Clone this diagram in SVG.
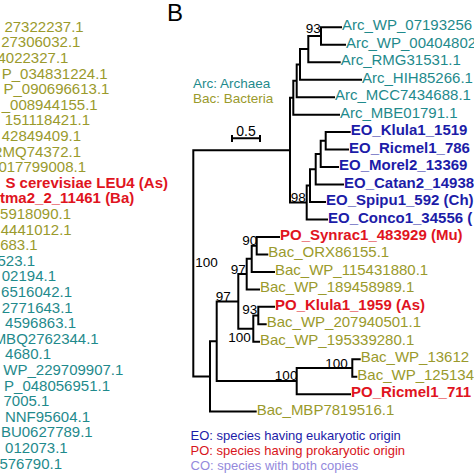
<svg xmlns="http://www.w3.org/2000/svg" width="474" height="474" viewBox="0 0 474 474">
<style>
text{font-family:"Liberation Sans",Arial,sans-serif}
.t{font-size:15px}
.e{text-anchor:end}
.bac{fill:#9a9a2c}
.arc{fill:#1f8a8c}
.eo{fill:#1c1ca8;font-weight:bold}
.po{fill:#e0141e;font-weight:bold}
.bs{font-size:13.5px;fill:#000;text-anchor:end}
.lg{font-size:13px}
.br{fill:none;stroke:#000;stroke-width:2;stroke-linecap:square}
</style>
<rect width="474" height="474" fill="#fff"/>
<g id="panelA">
<text class="t e bac" x="83.7" y="31.7">27322237.1</text>
<text class="t e bac" x="80.4" y="47.3">27306032.1</text>
<text class="t e bac" x="68.4" y="62.9">4022327.1</text>
<text class="t e bac" x="107.7" y="78.5">P_034831224.1</text>
<text class="t e bac" x="109.4" y="94.1">P_090696613.1</text>
<text class="t e bac" x="97.7" y="109.7">_008944155.1</text>
<text class="t e bac" x="90" y="125.3">151118421.1</text>
<text class="t e bac" x="81" y="140.9">42849409.1</text>
<text class="t e bac" x="81" y="156.5">RMQ74372.1</text>
<text class="t e bac" x="86" y="172.1">_017799008.1</text>
<text class="t e po" x="168" y="187.7">S cerevisiae LEU4 (As)</text>
<text class="t e po" x="134.3" y="203.3">tma2_2_11461 (Ba)</text>
<text class="t e bac" x="71" y="218.9">5918090.1</text>
<text class="t e bac" x="71.7" y="234.5">4441012.1</text>
<text class="t e bac" x="37.7" y="250.1">683.1</text>
<text class="t e arc" x="35" y="265.7">523.1</text>
<text class="t e arc" x="56" y="281.3">02194.1</text>
<text class="t e arc" x="72" y="296.9">6516042.1</text>
<text class="t e arc" x="72.7" y="312.5">2771643.1</text>
<text class="t e arc" x="76" y="328.1">4596863.1</text>
<text class="t e arc" x="98.7" y="343.7">MBQ2762344.1</text>
<text class="t e arc" x="51" y="359.3">4680.1</text>
<text class="t e arc" x="123.4" y="374.9">WP_229709907.1</text>
<text class="t e arc" x="110" y="390.5">P_048056951.1</text>
<text class="t e arc" x="49.4" y="406.1">7005.1</text>
<text class="t e arc" x="90" y="421.7">NNF95604.1</text>
<text class="t e arc" x="92.7" y="437.3">BU0627789.1</text>
<text class="t e arc" x="67.7" y="452.9">012073.1</text>
<text class="t e arc" x="62" y="468.5">576790.1</text>
</g>
<text id="label-B" x="167" y="21" style="font-size:24px;fill:#000">B</text>
<g id="legend-top">
<text class="lg arc" x="193" y="88" style="font-size:13.5px">Arc: Archaea</text>
<text class="lg bac" x="193" y="103" style="font-size:13.5px">Bac: Bacteria</text>
</g>
<g id="scalebar">
<path class="br" d="M232 138.3H260M232 136V141M260 136V141"/>
<text x="246" y="135.5" style="font-size:14px;text-anchor:middle">0.5</text>
</g>
<g id="connectors">
<path class="br" d="M193.3 150.15V376.4M193.3 150.15H290M193.3 376.4H210
M290 97.75V202.55M290 97.75H293.3M290 202.55H306.7
M293.3 80.8V114.7M293.3 80.8H296.7M293.3 114.7H339
M296.7 64.4V97.2M296.7 64.4H300M296.7 97.2H334
M300 49.1V79.7M300 49.1H308.3M300 79.7H361
M308.3 36.05V62.2M308.3 36.05H321M308.3 62.2H339.7
M321 27.3V44.8M321 27.3H341M321 44.8H345
M306.7 185.6V219.5M306.7 185.6H310M306.7 219.5H327
M310 169.25V202M310 169.25H315.7M310 202H325
M315.7 154V184.5M315.7 154H320.7M315.7 184.5H343
M320.7 140.85V167.1M320.7 140.85H325.7M320.7 167.1H338
M325.7 132.1V149.6M325.7 132.1H349.7M325.7 149.6H348
M210 341.25V411.6M210 341.25H216.7M210 411.6H255.7
M216.7 301.4V381.1M216.7 301.4H238.3M216.7 381.1H296.7
M238.3 274.1V328.7M238.3 274.1H246.7M238.3 328.7H253.3
M246.7 258.8V289.4M246.7 258.8H251.7M246.7 289.4H259
M251.7 245.65V271.9M251.7 245.65H256.7M251.7 271.9H274
M256.7 236.9V254.4M256.7 236.9H279M256.7 254.4H267.3
M253.3 315.55V341.8M253.3 315.55H258.3M253.3 341.8H259
M258.3 306.8V324.3M258.3 306.8H274M258.3 324.3H265.7
M296.7 367.95V394.2M296.7 367.95H352.3M296.7 394.2H350
M352.3 359.2V376.7M352.3 359.2H359.7M352.3 376.7H356.3"/>
</g>
<g id="bootstrap">
<text class="bs" x="320.7" y="33.3">93</text>
<text class="bs" x="305.7" y="201.5">98</text>
<text class="bs" x="257.4" y="244.5">90</text>
<text class="bs" x="245.7" y="273.5">97</text>
<text class="bs" x="230.7" y="300.5">97</text>
<text class="bs" x="257.4" y="314">93</text>
<text class="bs" x="250.7" y="341.5">100</text>
<text class="bs" x="297.4" y="380">100</text>
<text class="bs" x="347.7" y="367.5">100</text>
<text class="bs" x="217.7" y="267">100</text>
</g>
<g id="leaves">
<text id="n1" class="t arc" x="342" y="30.3">Arc_WP_07193256</text>
<text id="n2" class="t arc" x="346" y="47.8">Arc_WP_00404802</text>
<text id="n3" class="t arc" x="340.7" y="65.2">Arc_RMG31531.1</text>
<text id="n4" class="t arc" x="362" y="82.7">Arc_HIH85266.1</text>
<text id="n5" class="t arc" x="335" y="100.2">Arc_MCC7434688.1</text>
<text id="n6" class="t arc" x="340" y="117.7">Arc_MBE01791.1</text>
<text id="n7" class="t eo" x="350.7" y="135.1">EO_Klula1_1519</text>
<text id="n8" class="t eo" x="349" y="152.6">EO_Ricmel1_786</text>
<text id="n9" class="t eo" x="339" y="170.1">EO_Morel2_13369</text>
<text id="n10" class="t eo" x="344" y="187.5">EO_Catan2_14938</text>
<text id="n11" class="t eo" x="326" y="205">EO_Spipu1_592 (Ch)</text>
<text id="n12" class="t eo" x="328" y="222.5">EO_Conco1_34556 (</text>
<text id="n13" class="t po" x="280" y="239.9">PO_Synrac1_483929 (Mu)</text>
<text id="n14" class="t bac" x="268.3" y="257.4">Bac_ORX86155.1</text>
<text id="n15" class="t bac" x="275" y="274.9">Bac_WP_115431880.1</text>
<text id="n16" class="t bac" x="260" y="292.4">Bac_WP_189458989.1</text>
<text id="n17" class="t po" x="275" y="309.8">PO_Klula1_1959 (As)</text>
<text id="n18" class="t bac" x="266.7" y="327.3">Bac_WP_207940501.1</text>
<text id="n19" class="t bac" x="260" y="344.8">Bac_WP_195339280.1</text>
<text id="n20" class="t bac" x="360.7" y="362.2">Bac_WP_13612</text>
<text id="n21" class="t bac" x="357.3" y="379.7">Bac_WP_125134</text>
<text id="n22" class="t po" x="351" y="397.2">PO_Ricmel1_711</text>
<text id="n23" class="t bac" x="256.7" y="414.6">Bac_MBP7819516.1</text>
</g>
<g id="legend-bottom">
<text class="lg" x="190.5" y="440" fill="#1c1ca8">EO: species having eukaryotic origin</text>
<text class="lg" x="190.5" y="455" fill="#d81420">PO: species having prokaryotic origin</text>
<text class="lg" x="190.5" y="470" fill="#9489dc">CO: species with both copies</text>
</g>
</svg>
